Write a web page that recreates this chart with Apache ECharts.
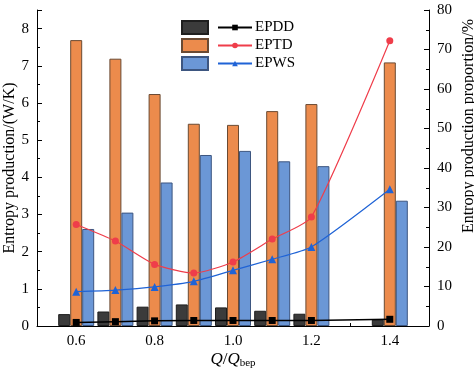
<!DOCTYPE html>
<html><head><meta charset="utf-8">
<script src="https://cdn.jsdelivr.net/npm/echarts@6/dist/echarts.min.js"></script>
<style>html,body{margin:0;padding:0;background:#fff}#c{width:474px;height:372px}</style>
</head><body><div id="c"></div>
<script>
const flowRatio = [0.6, 0.7, 0.8, 0.9, 1.0, 1.1, 1.2, 1.4];
const seriesNames = ['EPDD', 'EPTD', 'EPWS'];
// entropy production, W/K (bars, left axis)
const epddValue = [0.32, 0.39, 0.52, 0.58, 0.50, 0.41, 0.33, 0.17];
const eptdValue = [7.69, 7.19, 6.24, 5.44, 5.41, 5.78, 5.97, 7.09];
const epwsValue = [2.61, 3.05, 3.86, 4.60, 4.71, 4.43, 4.30, 3.37];
// entropy production proportion, % (lines, right axis)
const epddShare = [0.9, 1.1, 1.3, 1.4, 1.4, 1.4, 1.4, 1.7];
const eptdShare = [25.7, 21.5, 15.6, 13.4, 16.2, 22.0, 27.6, 72.2];
const epwsShare = [8.7, 9.1, 9.9, 11.3, 14.1, 16.9, 20.0, 34.6];
const xLabelValues = [0.6, 0.8, 1.0, 1.2, 1.4];
const xTickValues = [0.6, 0.7, 0.8, 0.9, 1.0, 1.1, 1.2, 1.3, 1.4];

const FONT = '"Liberation Serif", "Times New Roman", serif';
const barColors = ['#3b3b3b', '#ec8b4c', '#6b97d6'];
const barBorders = ['#1e1e1e', '#6a4a33', '#3d5680'];
const lineColors = ['#000000', '#ef3d4a', '#1f63d6'];
const symbols = ['rect', 'circle', 'triangle'];
const symbolSizes = [7, 7, 8];

const pair = arr => arr.map((v, i) => [flowRatio[i], v]);
const barVals = [epddValue, eptdValue, epwsValue];
const lineVals = [epddShare, eptdShare, epwsShare];

const series = [];
seriesNames.forEach((n, k) => {
  series.push({
    name: n + ' bar', type: 'bar', xAxisIndex: 0, yAxisIndex: 0,
    data: pair(barVals[k]), barWidth: 12, barGap: '0%',
    itemStyle: { color: barColors[k], borderColor: barBorders[k], borderWidth: 1 }
  });
});
seriesNames.forEach((n, k) => {
  series.push({
    name: n, type: 'line', xAxisIndex: 0, yAxisIndex: 1,
    data: pair(lineVals[k]), smooth: k === 0 ? false : 0.2,
    symbol: symbols[k], symbolSize: symbolSizes[k],
    lineStyle: { color: lineColors[k], width: k === 0 ? 1.5 : 1.2 },
    itemStyle: { color: lineColors[k] }, z: 5
  });
});

const chart = echarts.init(document.getElementById('c'), null, { renderer: 'canvas' });
chart.setOption({
  animation: false,
  backgroundColor: '#fff',
  grid: { left: 37, right: 45, top: 10, bottom: 46, containLabel: false, outerBoundsMode: 'none' },
  legend: [
    { orient: 'vertical', left: 181, top: 20, padding: 0, itemWidth: 26, itemHeight: 13, itemGap: 3,
      icon: 'rect',
      data: seriesNames.map(n => n + ' bar'), formatter: () => '', selectedMode: false,
      textStyle: { fontSize: 1, lineHeight: 13 } },
    { orient: 'vertical', left: 217, top: 20, padding: 0, itemWidth: 34, itemHeight: 7, itemGap: 3,
      data: seriesNames, selectedMode: false,
      textStyle: { fontFamily: FONT, fontSize: 15, lineHeight: 13, color: '#000', padding: [0, 0, 0, -2] } }
  ],
  xAxis: {
    type: 'value', min: 0.5, max: 1.5,
    axisLine: { show: true, lineStyle: { color: '#000', width: 1 } },
    axisTick: { show: true, inside: true, length: 3, customValues: xTickValues, lineStyle: { color: '#000' } },
    axisLabel: { customValues: xLabelValues, formatter: v => v.toFixed(1), margin: 8,
      fontFamily: FONT, fontSize: 15, color: '#000' },
    splitLine: { show: false },
    name: '{i|Q}/{i|Q}{s|bep}', nameLocation: 'middle', nameGap: 24, nameMoveOverlap: false,
    nameTextStyle: { fontFamily: FONT, fontSize: 17, color: '#000',
      rich: { i: { fontFamily: FONT, fontStyle: 'italic', fontSize: 17, color: '#000' },
              s: { fontFamily: FONT, fontSize: 11, color: '#000', verticalAlign: 'bottom', padding: [8, 0, 0, 0] } } }
  },
  yAxis: [
    { type: 'value', min: 0, max: 8.5, interval: 1, position: 'left',
      axisLine: { show: true, lineStyle: { color: '#000', width: 1 } },
      axisTick: { show: true, inside: true, length: 5, lineStyle: { color: '#000' } },
      minorTick: { show: true, splitNumber: 2, length: 3, lineStyle: { color: '#000' } },
      axisLabel: { margin: 8, fontFamily: FONT, fontSize: 15, color: '#000',
        formatter: v => (Math.abs(v - Math.round(v)) < 1e-6 ? String(Math.round(v)) : '') },
      splitLine: { show: false },
      name: 'Entropy production/(W/K)', nameLocation: 'middle', nameGap: 19, nameRotate: 90, nameMoveOverlap: false,
      nameTextStyle: { fontFamily: FONT, fontSize: 16, color: '#000' } },
    { type: 'value', min: 0, max: 80, interval: 10, position: 'right',
      axisLine: { show: true, lineStyle: { color: '#000', width: 1 } },
      axisTick: { show: true, inside: true, length: 5, lineStyle: { color: '#000' } },
      minorTick: { show: true, splitNumber: 2, length: 3, lineStyle: { color: '#000' } },
      axisLabel: { margin: 8, fontFamily: FONT, fontSize: 15, color: '#000' },
      splitLine: { show: false },
      name: 'Entropy production proportion/%', nameLocation: 'middle', nameGap: 32, nameRotate: 90, nameMoveOverlap: false,
      nameTextStyle: { fontFamily: FONT, fontSize: 16, color: '#000', padding: [0, 0, 0, 84] } }
  ],
  series: series
});
</script></body></html>
